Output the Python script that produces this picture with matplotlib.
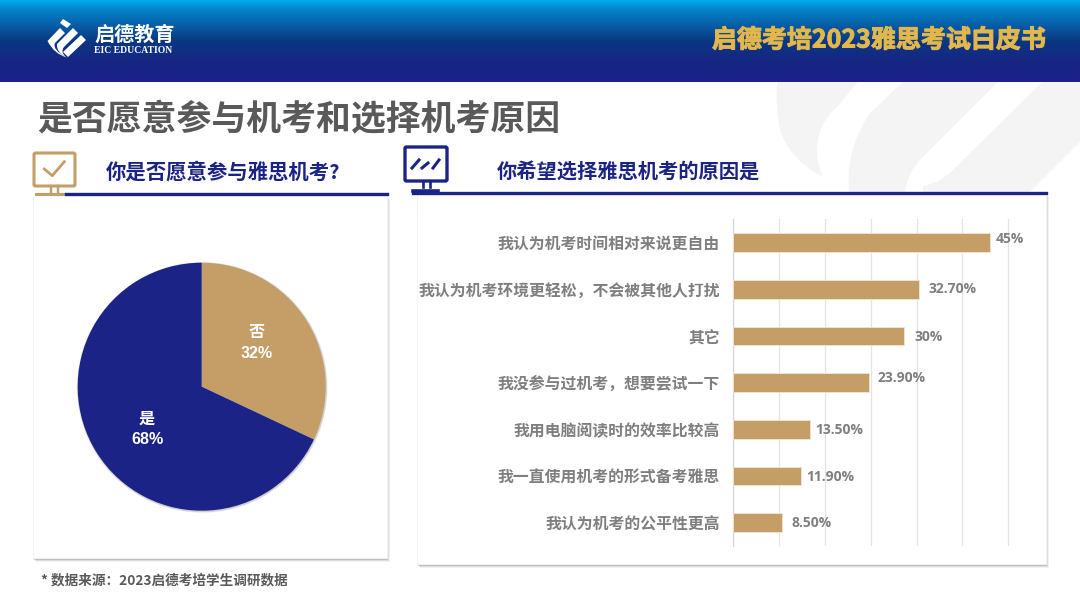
import numpy as np
import matplotlib
matplotlib.use("Agg")
import matplotlib.pyplot as plt
import matplotlib.patheffects as pe
from matplotlib.patches import Rectangle, FancyBboxPatch, PathPatch, Polygon, Circle
from matplotlib.path import Path

plt.rcParams['font.family'] = ['Noto Sans CJK SC', 'DejaVu Sans']

# pie data
pie_labels = ["否", "是"]
pie_values = [32, 68]

# bar data
reasons = ["我认为机考时间相对来说更自由", "我认为机考环境更轻松，不会被其他人打扰", "其它",
           "我没参与过机考，想要尝试一下", "我用电脑阅读时的效率比较高",
           "我一直使用机考的形式备考雅思", "我认为机考的公平性更高"]
reason_values = [45, 32.7, 30, 23.9, 13.5, 11.9, 8.5]
reason_texts = ["45%", "32.70%", "30%", "23.90%", "13.50%", "11.90%", "8.50%"]

# label nudges in pixels, the source chart has them placed by hand
label_dx = [6, 9.4, 10, 8, 5, 5.6, 10]
label_dy = [-3.7, 0, 0.7, -4.7, 0.4, 0.7, 0.6]

W, H = 1080, 606
NAVY = "#1b2486"
TAN = "#c59d66"
DARK = "#595959"
GREY = "#7f7f7f"
WATERMARK = "#f4f4f4"


def curve_patch(verts, codes, color, ax, z=1):
    path = Path(verts, codes)
    ax.add_patch(PathPatch(path, facecolor=color, edgecolor="none", zorder=z))


def panel(ax, x0, y0, x1, y1):
    # soft shadow, then the white card
    for off, a in [(4, 0.10), (3, 0.18), (2, 0.30), (1, 0.35)]:
        ax.add_patch(Rectangle((x0 + off - 1, y0 + off), x1 - x0, y1 - y0, fc="#808080", ec="none",
                               alpha=a, zorder=2))
    ax.add_patch(Rectangle((x0, y0), x1 - x0, y1 - y0, fc="white", ec="#f6f6f6", lw=0.6, zorder=2.5))


def monitor(ax, x0, y0, x1, y1, color, lw):
    ax.add_patch(FancyBboxPatch((x0 + 1, y0 + 1), x1 - x0 - 2, y1 - y0 - 8, boxstyle="round,pad=0,rounding_size=1.5",
                                fc="white", ec=color, lw=lw, zorder=3))
    cx = (x0 + x1) / 2
    ax.plot([cx - 3.5, cx - 3.5], [y1 - 7, y1 - 1], color=color, lw=lw * 0.8, zorder=3)
    ax.plot([cx + 3.5, cx + 3.5], [y1 - 7, y1 - 1], color=color, lw=lw * 0.8, zorder=3)


fig = plt.figure(figsize=(W / 100, H / 100), dpi=100, facecolor="white")

# background layer in pixel coordinates
bg = fig.add_axes([0, 0, 1, 1])
bg.set_xlim(0, W)
bg.set_ylim(H, 0)
bg.axis("off")

# header gradient
stops = np.array([0, 0.12, 0.5, 0.75, 1.0])
reds = np.interp(np.linspace(0, 1, 82), stops, [0, 5, 10, 22, 29])
greens = np.interp(np.linspace(0, 1, 82), stops, [172, 130, 55, 38, 32])
blues = np.interp(np.linspace(0, 1, 82), stops, [234, 200, 130, 132, 136])
grad = np.stack([reds, greens, blues], axis=1)[:, None, :] / 255
bg.imshow(grad, extent=[0, W, 82, 0], aspect="auto", zorder=5)
bg.set_xlim(0, W)
bg.set_ylim(H, 0)

# logo
bg.add_patch(Polygon([(63, 19), (71, 24), (67, 28), (60, 23)], fc="white", ec="none", zorder=6))
M, L, C, Z = Path.MOVETO, Path.LINETO, Path.CURVE3, Path.CLOSEPOLY
curve_patch([(60, 28), (65, 33), (55, 43), (52, 50), (67, 57.5), (67, 57.5), (54, 54), (47.5, 41), (47.5, 41)],
            [M, L, L, C, C, L, C, C, L], "white", bg, 6)
curve_patch([(73, 28), (78, 33), (64, 47), (60, 52), (66, 57), (56, 52), (57, 44), (57, 44)],
            [M, L, L, C, C, C, C, L], "white", bg, 6)
bg.add_patch(Polygon([(81, 35), (86, 40), (68, 57), (63, 52)], fc="white", ec="none", zorder=6))
bg.text(94, 34.5, "启德教育", color="white", fontsize=14.5, weight="bold", va="center", ha="left", zorder=6)
bg.text(94, 50.5, "EIC EDUCATION", color="white", fontsize=6.9, weight="bold", family="Liberation Serif",
        va="center", ha="left", zorder=6)
bg.text(1046, 40.5, "启德考培2023雅思考试白皮书", color="#e2b74c", fontsize=18.0, weight="black",
        va="center", ha="right", zorder=6,
        path_effects=[pe.withStroke(linewidth=0.7, foreground="#e2b74c")])

# watermark swooshes
curve_patch([(777, 82), (858, 82), (837, 107), (817, 125), (817, 150), (817, 165), (823, 177),
             (790, 160), (780, 130), (775, 105), (777, 82)],
            [M, L, L, C, C, C, C, C, C, C, C], WATERMARK, bg, 1)
curve_patch([(903, 82), (998, 82), (923, 157), (907, 172), (905, 192), (849, 192), (845, 150), (870, 113), (903, 82)],
            [M, L, L, C, C, L, C, C, L], WATERMARK, bg, 1)
curve_patch([(1042, 82), (1080, 82), (1080, 142), (1030, 192), (923, 192), (923, 186), (940, 183), (953, 170), (1042, 82)],
            [M, L, L, L, L, L, C, C, L], WATERMARK, bg, 1)

# titles
bg.text(37, 120, "是否愿意参与机考和选择机考原因", color=DARK, fontsize=25.1, weight="bold", va="center", ha="left")
bg.text(106, 172, "你是否愿意参与雅思机考?", color=NAVY, fontsize=14.7, weight="bold", va="center", ha="left")
bg.text(497, 172, "你希望选择雅思机考的原因是", color=NAVY, fontsize=14.6, weight="bold", va="center", ha="left")
bg.text(41, 580, "* 数据来源：2023启德考培学生调研数据", color=DARK, fontsize=9.8, weight="bold", va="center", ha="left")

# cards
panel(bg, 33, 195, 387, 558)
panel(bg, 417, 193, 1046, 564)

# left icon
monitor(bg, 33, 152, 76, 193, TAN, 2.2)
bg.plot([44.3, 52.3, 64.3], [169, 175.7, 161.7], color=TAN, lw=2.0, zorder=3.5)
bg.plot([36, 74], [193.5, 193.5], color=TAN, lw=2.2, zorder=3)
bg.plot([66, 387], [194, 194], color=NAVY, lw=2.4, zorder=4)

# right icon
monitor(bg, 404, 146, 448, 188, NAVY, 2.4)
for x in [412, 422, 433]:
    bg.plot([x, x + (6 if x > 412 else 7)], [168, 160 if x != 422 else 163], color=NAVY, lw=2.2, zorder=3.5)
bg.plot([413, 438], [190.5, 190.5], color=NAVY, lw=2.6, zorder=4)
bg.plot([413, 1046], [192.7, 192.7], color=NAVY, lw=2.4, zorder=4)

# pie shadow
for r, a in [(125.5, 0.10), (124.8, 0.22)]:
    bg.add_patch(Circle((202.2, 387.4), r, fc="#666666", ec="none", alpha=a, zorder=3))

# pie
cx, cy, r = 201.7, 386.7, 124
pie_ax = fig.add_axes([(cx - r) / W, 1 - (cy + r) / H, 2 * r / W, 2 * r / H])
pie_ax.pie(pie_values, colors=[TAN, NAVY], startangle=90, counterclock=False, radius=1,
           wedgeprops={"linewidth": 0})
pie_ax.set_xlim(-1, 1)
pie_ax.set_ylim(-1, 1)
pie_ax.set_aspect("equal")
pie_pos = [(0.44, 0.355), (-0.44, -0.345)]
for name, val, pos in zip(pie_labels, pie_values, pie_pos):
    pie_ax.text(pos[0], pos[1], f"{name}\n{val}%", color="white", fontsize=11.6, weight="bold",
                ha="center", va="center", linespacing=1.5,
                family=["Liberation Sans", "Noto Sans CJK SC"])

# bars
x0, x1, y0, y1 = 733.3, 1012, 219.3, 546
ax = fig.add_axes([x0 / W, 1 - y1 / H, (x1 - x0) / W, (y1 - y0) / H])
ax.patch.set_alpha(0)
pos = np.arange(len(reasons))
ax.barh(pos, reason_values, height=0.4, color=TAN, edgecolor="#efe2cf", linewidth=0.7, zorder=3)
ax.set_xlim(0, 48.95)
ax.set_ylim(len(reasons) - 0.5, -0.5)
ax.set_xticks(np.arange(7) * 8.05)
ax.set_xticklabels([])
ax.set_yticks(pos)
ax.set_yticklabels(reasons, fontsize=11.4, color=GREY, weight="bold")
ax.tick_params(length=0, pad=9.6)
ax.grid(axis="x", color="#e4e4e4", lw=0.9, zorder=0)
for s in ["top", "right", "bottom"]:
    ax.spines[s].set_visible(False)
ax.spines["left"].set_color("#d6d6d6")
ax.spines["left"].set_linewidth(0.9)

for i, (v, t) in enumerate(zip(reason_values, reason_texts)):
    ax.annotate(t, (v, i), xytext=(label_dx[i] * 0.72, -label_dy[i] * 0.72), textcoords="offset points",
                ha="left", va="center", fontsize=10, color=GREY, weight="bold", family="Open Sans", zorder=4)

fig.savefig("out.png", dpi=100)
